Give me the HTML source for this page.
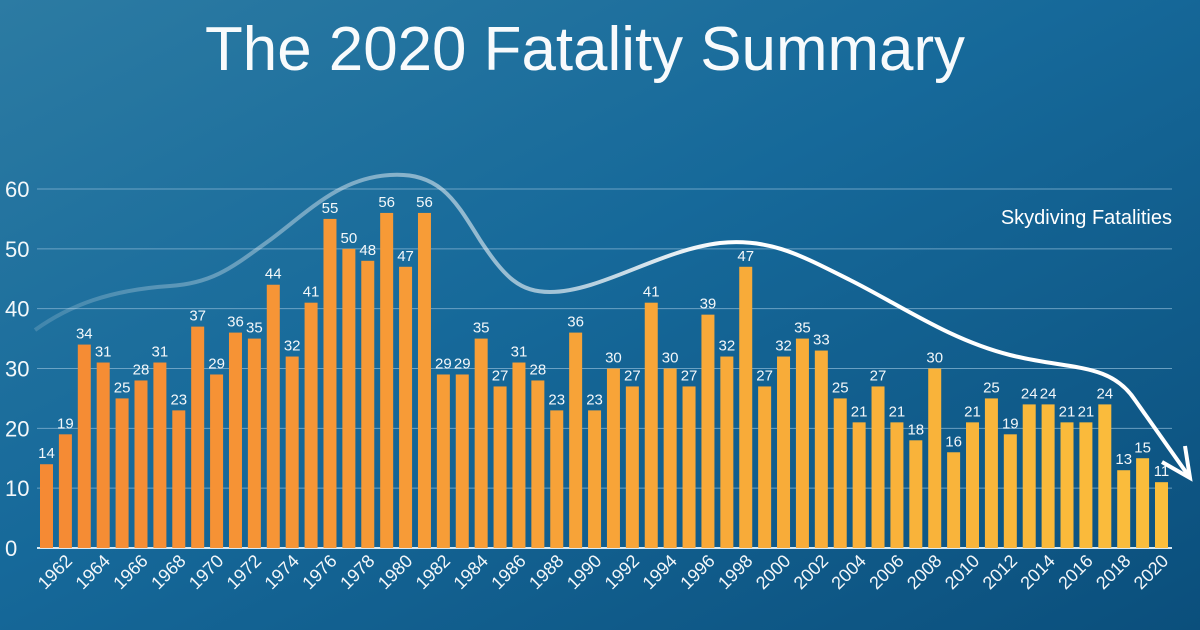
<!DOCTYPE html>
<html><head><meta charset="utf-8"><style>
html,body{margin:0;padding:0;width:1200px;height:630px;overflow:hidden;}
svg{display:block;font-family:"Liberation Sans",sans-serif;}
</style></head><body>
<svg id="chart" width="1200" height="630" viewBox="0 0 1200 630">
<defs>
<linearGradient id="bg" x1="0" y1="0" x2="1" y2="1"><stop offset="0" stop-color="#2c7ba3"/><stop offset="0.45" stop-color="#16699a"/><stop offset="1" stop-color="#0b4f7c"/></linearGradient>
<linearGradient id="curveGrad" gradientUnits="userSpaceOnUse" x1="30" y1="0" x2="1190" y2="0"><stop offset="0" stop-color="#fff" stop-opacity="0.15"/><stop offset="0.45" stop-color="#fff" stop-opacity="0.6"/><stop offset="0.6" stop-color="#fff" stop-opacity="1"/><stop offset="1" stop-color="#fff" stop-opacity="1"/></linearGradient>
</defs>
<rect width="1200" height="630" fill="url(#bg)"/>
<text x="585" y="70" text-anchor="middle" font-size="62" fill="#fff" fill-opacity="0.97" textLength="760" lengthAdjust="spacingAndGlyphs">The 2020 Fatality Summary</text>
<g id="grid"></g>
<path d="M35,330 C70,305 110,290 170,286 C215,283 235,265 270,240 C310,210 340,178 390,175 C440,172 455,200 480,240 C505,278 520,292 550,292 C600,292 660,250 720,243 C770,238 800,255 850,280 C900,305 950,340 1010,355 C1070,370 1110,362 1135,400 L1188,475" fill="none" stroke="url(#curveGrad)" stroke-width="4"/>
<path d="M1162,462 L1190,478 L1185,446" fill="none" stroke="#fff" stroke-width="4"/>
<text x="1172" y="224" text-anchor="end" font-size="20" fill="#fff">Skydiving Fatalities</text>
<g id="bars"></g>
</svg>
<script>
const years = [1961,1962,1963,1964,1965,1966,1967,1968,1969,1970,1971,1972,1973,1974,1975,1976,1977,1978,1979,1980,1981,1982,1983,1984,1985,1986,1987,1988,1989,1990,1991,1992,1993,1994,1995,1996,1997,1998,1999,2000,2001,2002,2003,2004,2005,2006,2007,2008,2009,2010,2011,2012,2013,2014,2015,2016,2017,2018,2019,2020];
const fatalities = [14,19,34,31,25,28,31,23,37,29,36,35,44,32,41,55,50,48,56,47,56,29,29,35,27,31,28,23,36,23,30,27,41,30,27,39,32,47,27,32,35,33,25,21,27,21,18,30,16,21,25,19,24,24,21,21,24,13,15,11];
const yTicks = [0,10,20,30,40,50,60];
const NS="http://www.w3.org/2000/svg";
const x0=40, x1=1168, barW=13, yBase=548, yTop=189, yMax=60;
const step=(x1-barW-x0)/(years.length-1);
const xs=i=>x0+i*step;
const ys=v=>yBase-(v/yMax)*(yBase-yTop);
function mk(t,a){const e=document.createElementNS(NS,t);for(const k in a)e.setAttribute(k,a[k]);return e;}
const grid=document.getElementById('grid');
yTicks.forEach(v=>{
  const l=mk('line',{x1:37,x2:1172,y1:ys(v),y2:ys(v),stroke:v===0?'#d8eaf5':'#7fb0cf','stroke-width':v===0?2:1,'stroke-opacity':v===0?1:0.8});
  
  
  grid.appendChild(l);
  const t=mk('text',{x:5,y:ys(v)+8,'font-size':22,fill:'#fff','fill-opacity':0.95});
  
  
  t.textContent=v;grid.appendChild(t);
});
const bars=document.getElementById('bars');
function col(i){const f=i/(years.length-1);const c1=[245,138,52],c2=[250,190,60];return 'rgb('+c1.map((c,k)=>Math.round(c+(c2[k]-c)*f)).join(',')+')';}
years.forEach((yr,i)=>{
  const v=fatalities[i],x=xs(i);
  const r=mk('rect',{x:x,y:ys(v),width:barW,height:yBase-ys(v),fill:col(i)});
  
  
  bars.appendChild(r);
  const t=mk('text',{x:x+barW/2,y:ys(v)-6,'text-anchor':'middle','font-size':15,fill:'#fff','fill-opacity':0.95});
  
  
  t.textContent=v;bars.appendChild(t);
  if(yr%2===0){
    const cx=x+barW/2+8, cy=yBase+14;
    const tl=mk('text',{x:cx,y:cy,'text-anchor':'end','font-size':18,fill:'#fff','fill-opacity':0.95,transform:'rotate(-45 '+cx+' '+cy+')'});
    
    
    tl.textContent=yr;bars.appendChild(tl);
  }
});
</script>
</body></html>
